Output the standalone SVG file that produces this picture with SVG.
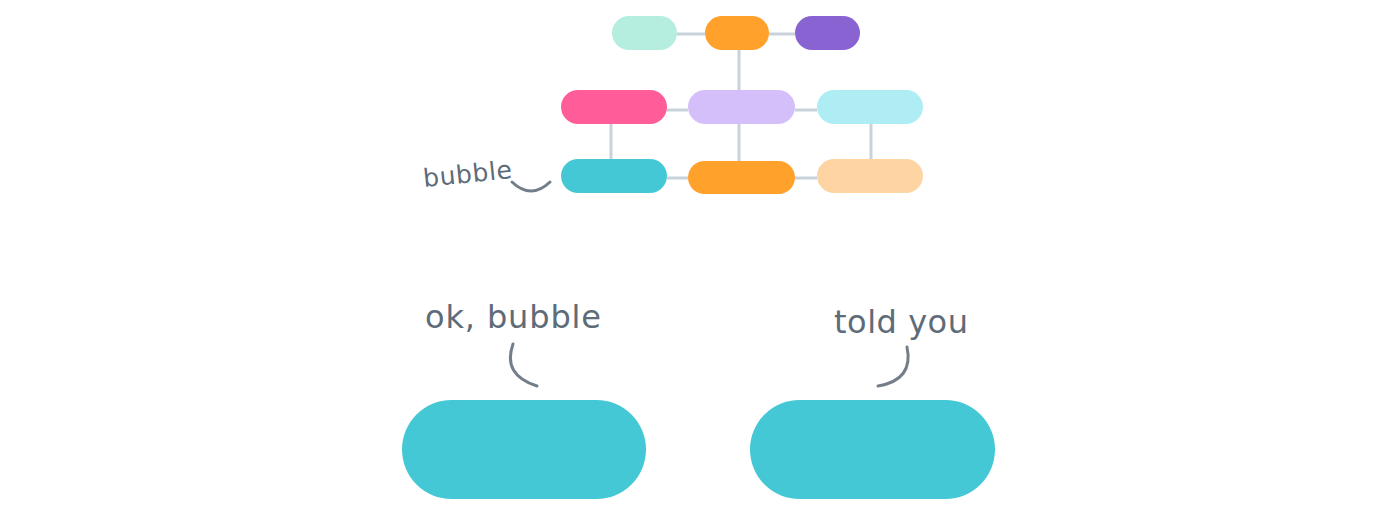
<svg xmlns="http://www.w3.org/2000/svg" width="1400" height="520" viewBox="0 0 1400 520">
<style>
.lbl{font-family:"DejaVu Sans","Open Sans","Liberation Sans",sans-serif;fill:#5E6B78}
.conn line{stroke:#C9D2DB;stroke-width:3}
.tick{fill:none;stroke:#737E8A;stroke-width:3;stroke-linecap:round}
</style>
<rect width="1400" height="520" fill="#FFFFFF"/>
<g id="connectors" class="conn">
<line x1="677" y1="34" x2="705" y2="34"/>
<line x1="769" y1="34" x2="795" y2="34"/>
<line x1="739" y1="50" x2="739" y2="90"/>
<line x1="667" y1="110" x2="688" y2="110"/>
<line x1="795" y1="110" x2="817" y2="110"/>
<line x1="611" y1="124" x2="611" y2="159"/>
<line x1="739" y1="124" x2="739" y2="161"/>
<line x1="871" y1="124" x2="871" y2="159"/>
<line x1="667" y1="178" x2="688" y2="178"/>
<line x1="795" y1="178" x2="817" y2="178"/>
</g>
<g id="n-mint"><rect x="612" y="16" width="65" height="34" rx="17" fill="#B5EEDF"/></g>
<g id="n-orange-top"><rect x="705" y="16" width="64" height="34" rx="17" fill="#FFA12B"/></g>
<g id="n-purple"><rect x="795" y="16" width="65" height="34" rx="17" fill="#8A63D2"/></g>
<g id="n-pink"><rect x="561" y="90" width="106" height="34" rx="17" fill="#FF5C9A"/></g>
<g id="n-lavender"><rect x="688" y="90" width="107" height="34" rx="17" fill="#D4BFFA"/></g>
<g id="n-lightblue"><rect x="817" y="90" width="106" height="34" rx="17" fill="#AEEDF3"/></g>
<g id="n-teal"><rect x="561" y="159" width="106" height="34" rx="17" fill="#45C8D6"/></g>
<g id="n-orange-bottom"><rect x="688" y="161" width="107" height="33" rx="16.5" fill="#FFA12B"/></g>
<g id="n-peach"><rect x="817" y="159" width="106" height="34" rx="17" fill="#FDD4A2"/></g>
<g id="ann-bubble">
<text class="lbl" x="424" y="187" font-size="25" transform="rotate(-5.8 424 187)" textLength="89">bubble</text>
<path class="tick" d="M512 182 Q531 200 550 182"/>
</g>
<g id="n-big-left"><rect x="402" y="400" width="244" height="99" rx="49.5" fill="#45C8D6"/></g>
<g id="n-big-right"><rect x="750" y="400" width="245" height="99" rx="49.5" fill="#45C8D6"/></g>
<g id="ann-ok">
<text class="lbl" x="425" y="328" font-size="32" textLength="176">ok, bubble</text>
<path class="tick" d="M513 344 Q502 375 537 386"/>
</g>
<g id="ann-told">
<text class="lbl" x="834" y="333" font-size="32" textLength="134">told you</text>
<path class="tick" d="M907 347 Q914 380 878 386"/>
</g>
</svg>
